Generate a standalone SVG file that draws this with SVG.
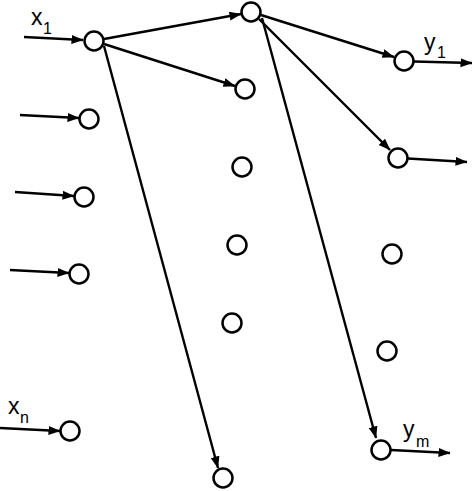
<svg xmlns="http://www.w3.org/2000/svg" width="474" height="491" viewBox="0 0 474 491">
<style>
.node circle{fill:#fff;stroke:#000;stroke-width:2.5}
.edge line{stroke:#000;stroke-width:2.4;marker-end:url(#ah)}
.lbl{font-family:"Liberation Sans",Arial,sans-serif;font-size:23px;fill:#000}
.sub{font-size:16px}
</style>
<defs>
<marker id="ah" markerUnits="userSpaceOnUse" markerWidth="12" markerHeight="10" refX="11.5" refY="4.5" orient="auto">
<path d="M0,0 L12,4.5 L0,9 z" fill="#000"/>
</marker>
</defs>
<rect width="474" height="491" fill="#fff"/>
<g id="connectors" class="edge">
<line x1="24" y1="37" x2="83" y2="40"/>
<line x1="20" y1="115" x2="79" y2="118"/>
<line x1="15" y1="192" x2="74" y2="196"/>
<line x1="10" y1="270" x2="69" y2="273"/>
<line x1="0" y1="428" x2="60" y2="431"/>
<line x1="104" y1="39" x2="241" y2="14"/>
<line x1="104" y1="44" x2="235" y2="86"/>
<line x1="104" y1="46" x2="218" y2="468"/>
<line x1="261" y1="15" x2="394" y2="57"/>
<line x1="259" y1="19" x2="390" y2="150"/>
<line x1="262" y1="18" x2="376" y2="438"/>
<line x1="414" y1="61.5" x2="472" y2="63"/>
<line x1="408" y1="158.5" x2="467" y2="162"/>
<line x1="391" y1="450" x2="450" y2="453"/>
</g>
<g id="n_x1" class="node"><circle cx="94" cy="41" r="9.5"/></g>
<g id="n_in2" class="node"><circle cx="89" cy="119" r="9.5"/></g>
<g id="n_in3" class="node"><circle cx="84" cy="197" r="9.5"/></g>
<g id="n_in4" class="node"><circle cx="79" cy="274" r="9.5"/></g>
<g id="n_xn" class="node"><circle cx="70" cy="431" r="9.5"/></g>
<g id="n_h1" class="node"><circle cx="251" cy="12" r="9.5"/></g>
<g id="n_h2" class="node"><circle cx="245" cy="89" r="9.5"/></g>
<g id="n_h3" class="node"><circle cx="242" cy="167" r="9.5"/></g>
<g id="n_h4" class="node"><circle cx="237" cy="245" r="9.5"/></g>
<g id="n_h5" class="node"><circle cx="232" cy="323" r="9.5"/></g>
<g id="n_h6" class="node"><circle cx="223" cy="478" r="9.5"/></g>
<g id="n_y1" class="node"><circle cx="404" cy="61" r="9.5"/></g>
<g id="n_o2" class="node"><circle cx="398" cy="158" r="9.5"/></g>
<g id="n_o3" class="node"><circle cx="392" cy="254" r="9.5"/></g>
<g id="n_o4" class="node"><circle cx="387" cy="351" r="9.5"/></g>
<g id="n_ym" class="node"><circle cx="381" cy="450" r="9.5"/></g>
<g id="labels">
<text class="lbl" x="31" y="25">x<tspan class="sub" x="43" y="34">1</tspan></text>
<text class="lbl" x="424" y="50">y<tspan class="sub" x="437" y="58">1</tspan></text>
<text class="lbl" x="8" y="414">x<tspan class="sub" x="20" y="423">n</tspan></text>
<text class="lbl" x="403" y="437">y<tspan class="sub" x="416" y="447">m</tspan></text>
</g>
</svg>
